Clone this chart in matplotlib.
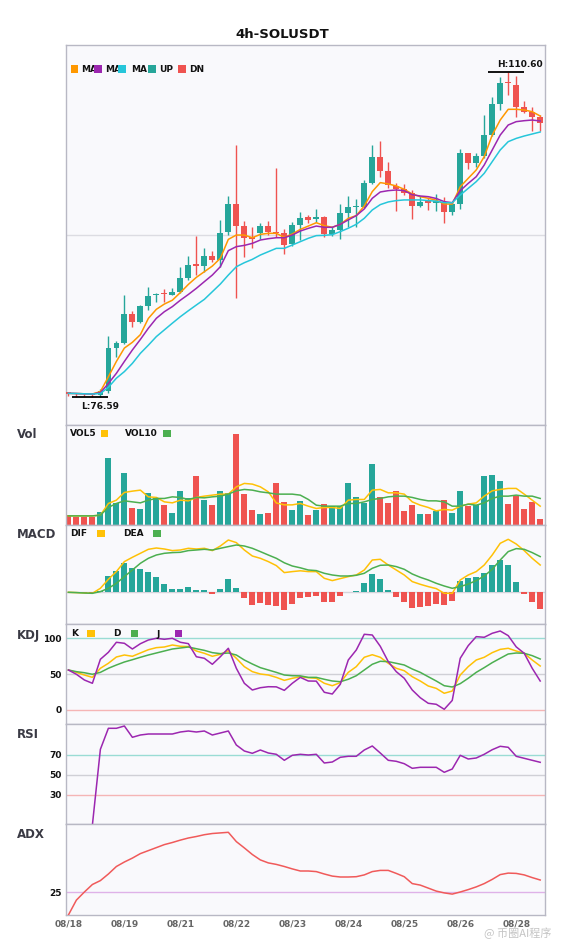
import numpy as np
import matplotlib
matplotlib.use('Agg')
import matplotlib.pyplot as plt
from matplotlib.patches import Rectangle

# ---------------- data ----------------
title = '4h-SOLUSDT'
tick_idx = [0, 7, 14, 21, 28, 35, 42, 49, 56]
tick_labels = ['08/18', '08/19', '08/21', '08/22', '08/23', '08/24', '08/25', '08/26', '08/28']

opens = [77.00, 76.95, 76.90, 76.87, 76.80, 77.24, 81.70, 82.20, 85.25, 84.45,
         86.10, 87.20, 87.40, 87.28, 87.59, 89.02, 90.45, 90.30, 91.30, 90.95,
         93.80, 96.80, 94.50, 93.34, 93.69, 94.46, 93.86, 93.69, 92.54, 94.59,
         95.40, 95.15, 95.37, 93.65, 94.07, 95.85, 96.40, 96.41, 98.98, 101.63,
         100.17, 98.63, 98.29, 97.93, 96.58, 97.10, 96.89, 96.83, 95.95, 96.80,
         102.05, 101.07, 101.77, 103.96, 107.20, 109.50, 109.19, 106.86, 106.37, 105.81]
highs = [77.14, 77.05, 76.98, 76.95, 77.39, 82.96, 82.44, 87.21, 85.57, 86.15,
         88.05, 87.49, 87.84, 87.95, 90.20, 91.30, 93.40, 92.16, 91.87, 95.05,
         97.59, 102.92, 94.98, 94.32, 94.74, 95.00, 100.48, 94.11, 94.90, 95.95,
         95.64, 96.20, 95.50, 94.38, 96.75, 97.59, 97.30, 99.26, 102.92, 103.30,
         101.14, 98.92, 98.84, 98.22, 97.59, 97.38, 97.80, 97.52, 97.00, 102.50,
         102.12, 102.12, 106.05, 107.90, 110.06, 110.60, 110.13, 107.55, 106.92, 106.05]
lows = [76.72, 76.62, 76.70, 76.59, 76.62, 77.00, 80.80, 82.10, 83.87, 84.35,
        85.68, 86.48, 86.48, 87.20, 87.50, 88.80, 89.30, 89.68, 90.70, 90.14,
        93.50, 86.90, 91.18, 92.13, 93.13, 93.50, 93.34, 91.50, 92.36, 92.99,
        94.74, 94.90, 93.34, 93.41, 93.13, 94.38, 94.38, 96.30, 98.80, 99.60,
        98.40, 96.05, 97.70, 95.15, 96.47, 96.13, 95.99, 94.80, 95.60, 96.20,
        100.44, 100.65, 101.60, 103.86, 106.58, 108.15, 105.88, 106.25, 104.41, 104.41]
closes = [76.95, 76.90, 76.87, 76.76, 77.24, 81.70, 82.20, 85.30, 84.45, 86.10,
          87.10, 87.35, 87.30, 87.59, 89.02, 90.38, 90.30, 91.30, 90.95, 93.70,
          96.75, 94.50, 93.20, 93.13, 94.46, 93.83, 93.69, 92.47, 94.53, 95.26,
          95.11, 95.36, 93.65, 94.00, 95.78, 96.41, 96.45, 98.98, 101.63, 100.23,
          98.74, 98.29, 97.93, 96.54, 96.99, 96.89, 97.10, 95.95, 96.75, 102.05,
          101.07, 101.77, 103.96, 107.20, 109.37, 109.37, 106.92, 106.40, 105.88, 105.19]

ma_short = [76.97, 76.95, 76.92, 76.90, 77.15, 78.70, 80.30, 81.70, 82.30, 83.10,
            84.80, 85.75, 86.30, 86.70, 87.50, 88.35, 89.09, 89.68, 90.27, 91.08,
            93.06, 93.51, 93.51, 93.23, 93.58, 93.69, 93.69, 93.27, 93.62, 94.10,
            94.45, 94.80, 94.49, 94.32, 94.63, 95.26, 95.54, 96.55, 98.05, 98.99,
            98.85, 98.64, 98.29, 97.80, 97.52, 97.35, 97.15, 96.75, 96.75, 98.56,
            99.44, 100.31, 101.70, 103.96, 105.53, 106.65, 106.65, 106.58, 106.40, 105.95]
ma_mid = [76.97, 76.95, 76.92, 76.90, 77.04, 78.00, 79.06, 80.30, 81.50, 82.60,
          83.77, 84.81, 85.50, 86.03, 86.70, 87.30, 87.94, 88.64, 89.33, 90.20,
          91.88, 92.30, 92.43, 92.64, 92.99, 93.13, 93.23, 93.23, 93.51, 93.93,
          94.21, 94.45, 94.32, 94.32, 94.63, 95.09, 95.54, 96.24, 97.35, 98.01,
          98.15, 98.22, 98.15, 97.73, 97.59, 97.52, 97.33, 97.00, 96.89, 98.15,
          98.91, 99.61, 100.83, 102.40, 103.96, 105.01, 105.36, 105.46, 105.53, 105.43]
ma_long = [76.97, 76.95, 76.92, 76.90, 76.95, 77.60, 78.55, 79.24, 80.10, 81.15,
           82.00, 82.90, 83.60, 84.30, 84.98, 85.60, 86.20, 86.79, 87.59, 88.39,
           89.33, 90.20, 90.62, 90.97, 91.42, 91.77, 92.12, 92.12, 92.47, 92.82,
           93.17, 93.45, 93.48, 93.55, 93.87, 94.22, 94.63, 95.26, 96.13, 96.69,
           96.97, 97.11, 97.18, 97.18, 97.18, 97.11, 97.05, 96.89, 96.89, 97.69,
           98.39, 99.09, 99.96, 101.18, 102.40, 103.27, 103.61, 103.86, 104.07, 104.28]

volume = [9.3, 7.6, 7.6, 7.6, 12.3, 66.3, 21.6, 51.3, 16.3, 15.3,
          31.3, 26.3, 19.3, 11.3, 33.3, 26.3, 48.3, 24.6, 19.3, 33.3,
          31.0, 90.3, 30.3, 14.3, 10.3, 11.3, 41.3, 22.3, 14.3, 23.3,
          9.3, 14.3, 20.3, 18.3, 18.3, 41.3, 27.3, 21.3, 60.3, 27.3,
          21.3, 33.3, 13.3, 19.3, 10.3, 10.3, 13.3, 24.3, 11.3, 33.3,
          18.3, 19.3, 48.3, 49.3, 43.3, 20.3, 28.3, 15.3, 22.3, 5.3]
vol5 = [8.6, 8.6, 8.6, 8.6, 9.3, 21.0, 24.3, 32.0, 33.3, 34.3,
        27.6, 27.0, 22.6, 21.6, 24.3, 23.6, 27.0, 28.3, 29.3, 30.3,
        30.3, 37.6, 41.0, 40.3, 37.6, 32.6, 21.5, 19.6, 19.6, 21.0,
        18.3, 16.0, 17.0, 17.0, 16.0, 24.3, 25.0, 25.0, 34.3, 35.0,
        31.6, 31.6, 30.3, 22.6, 19.3, 17.0, 13.6, 15.0, 14.3, 18.3,
        20.3, 21.6, 28.3, 33.6, 35.0, 36.0, 36.0, 30.3, 24.3, 18.3]
vol10 = [8.6, 8.6, 8.6, 8.6, 9.3, 17.0, 21.0, 23.6, 22.6, 21.6,
         24.3, 26.0, 26.0, 27.6, 27.0, 25.0, 27.0, 26.6, 27.6, 28.3,
         30.3, 33.6, 35.0, 34.3, 32.6, 31.6, 30.3, 30.3, 30.3, 29.3,
         25.0, 19.3, 18.3, 18.3, 18.3, 21.0, 21.0, 22.6, 25.0, 26.0,
         27.6, 28.3, 28.3, 27.0, 25.0, 23.6, 23.6, 22.6, 18.3, 18.3,
         20.3, 19.3, 21.6, 26.0, 28.3, 28.3, 29.3, 28.3, 28.3, 26.0]

dif = [0, -0.3, -0.7, -1.0, 4.0, 13.0, 20.7, 30.7, 35.0, 39.0,
       43.0, 44.3, 43.3, 41.7, 42.3, 44.0, 43.3, 44.0, 41.7, 46.3,
       52.3, 49.7, 42.3, 36.3, 34.0, 30.7, 26.7, 19.7, 20.7, 21.5,
       20.7, 20.7, 14.0, 11.7, 13.7, 15.7, 17.3, 22.3, 32.3, 33.0,
       27.3, 22.3, 17.3, 10.7, 8.0, 5.7, 3.7, -1.0, -1.0, 12.3,
       17.3, 20.7, 27.3, 37.3, 49.0, 53.0, 48.3, 41.7, 34.0, 27.3]
dea = [0, -0.3, -0.7, -1.0, 0.7, 4.0, 9.0, 15.7, 22.3, 29.0,
       34.0, 37.3, 39.0, 39.7, 40.0, 41.7, 42.3, 43.0, 42.3, 44.0,
       45.7, 47.3, 46.3, 44.0, 40.7, 37.3, 34.0, 29.5, 26.3, 24.5,
       22.3, 21.7, 19.0, 17.3, 16.3, 16.3, 17.0, 19.0, 24.0, 27.0,
       27.3, 25.7, 23.0, 18.3, 15.0, 12.3, 9.0, 6.3, 4.0, 5.7,
       8.3, 11.7, 16.3, 23.0, 32.3, 40.7, 43.7, 43.0, 39.7, 35.7]
macd_hist = [0, 0, -0.5, -0.5, 1.3, 16.3, 21.3, 29.3, 24.3, 23.3,
             20.3, 15.3, 8.3, 3.3, 3.3, 5.3, 2.3, 2.3, -1.7, 3.3,
             13.3, 4.3, -5.7, -12.7, -10.7, -12.7, -13.7, -17.7, -11.7, -5.7,
             -4.7, -3.7, -9.7, -9.7, -3.7, 0.3, 1.3, 9.3, 18.3, 13.3,
             2.3, -4.7, -9.7, -15.7, -14.7, -13.7, -11.7, -12.7, -8.7, 11.3,
             14.3, 15.3, 19.3, 27.3, 32.3, 27.3, 10.3, -1.7, -9.7, -16.7]

k_line = [55.6, 52.3, 48.6, 45.3, 58.0, 65.0, 73.8, 76.6, 74.8, 79.4,
          84.0, 86.9, 87.8, 90.6, 88.8, 88.4, 82.2, 79.0, 74.8, 77.6,
          82.6, 72.0, 60.3, 53.3, 50.0, 48.6, 45.3, 41.1, 44.0, 46.2,
          44.8, 44.0, 37.0, 33.6, 37.9, 52.3, 60.3, 73.4, 77.0, 73.4,
          65.0, 58.0, 54.6, 46.2, 40.2, 33.2, 29.9, 23.0, 26.2, 48.6,
          60.3, 69.6, 73.4, 79.9, 84.5, 86.0, 82.2, 79.0, 69.6, 61.2]
d_line = [55.6, 53.3, 51.8, 49.6, 52.3, 58.0, 62.6, 66.8, 70.0, 73.4,
          76.6, 79.4, 82.2, 85.0, 86.4, 87.8, 85.4, 83.1, 79.9, 78.5,
          79.4, 76.6, 69.6, 64.0, 58.9, 55.6, 52.3, 48.6, 47.6, 47.4,
          45.3, 45.3, 42.6, 40.2, 39.2, 42.6, 47.6, 55.6, 63.6, 67.8,
          67.3, 65.0, 62.6, 57.0, 52.3, 46.2, 40.2, 33.6, 31.8, 36.5,
          44.0, 52.3, 58.9, 65.9, 72.0, 78.0, 79.4, 79.0, 75.7, 71.0]
j_line = [55.6, 49.6, 41.6, 37.0, 70.6, 80.4, 94.4, 93.0, 85.0, 92.4,
          97.6, 100.0, 98.6, 100.0, 94.4, 92.5, 74.2, 72.0, 63.6, 74.2,
          86.0, 58.0, 37.0, 27.6, 30.8, 32.2, 32.0, 27.1, 37.0, 45.3,
          40.2, 40.0, 24.4, 22.0, 35.6, 69.6, 83.6, 105.6, 104.6, 88.8,
          67.3, 53.3, 44.0, 27.6, 16.8, 9.0, 7.6, 0.6, 13.0, 72.0,
          89.7, 102.3, 101.4, 107.0, 110.2, 103.7, 88.0, 79.0, 58.0, 40.2]

rsi = [np.nan, np.nan, np.nan, 0.0, 75.7, 96.7, 96.7, 99.0, 87.7, 90.0,
       91.0, 91.0, 91.0, 91.0, 93.0, 94.0, 93.0, 94.0, 90.0, 92.0,
       94.0, 80.0, 74.0, 71.7, 75.0, 72.0, 70.7, 64.7, 69.7, 70.7,
       70.0, 70.7, 62.0, 63.0, 67.7, 68.7, 68.7, 75.0, 79.0, 72.0,
       64.7, 63.7, 61.3, 56.7, 57.7, 57.7, 57.7, 52.7, 56.0, 69.7,
       66.0, 67.0, 70.7, 75.3, 78.7, 77.7, 68.7, 66.7, 64.7, 62.7]

adx = [17.43, 22.4, 25.1, 27.6, 28.9, 31.1, 33.6, 35.1, 36.4, 37.9,
       38.9, 39.9, 40.9, 41.6, 42.4, 43.1, 43.6, 44.2, 44.6, 44.8,
       45.0, 41.9, 39.8, 37.6, 35.8, 34.8, 34.3, 33.6, 32.8, 32.1,
       32.1, 31.9, 31.1, 30.4, 30.1, 30.1, 30.2, 30.8, 31.9, 32.3,
       32.3, 31.3, 30.2, 27.9, 27.4, 26.4, 25.4, 24.8, 24.4, 25.1,
       25.9, 26.8, 27.9, 29.3, 30.9, 31.4, 31.3, 30.8, 29.9, 29.1]

# ---------------- style ----------------
UP, DN = '#26a69a', '#ef5350'
C_ORANGE, C_PURPLE, C_CYAN = '#ff9800', '#9c27b0', '#26c6da'
C_YEL, C_GRN = '#ffc107', '#4caf50'
BG = '#f9f9fc'
SPINE = '#b8b8c4'

W, H = 565, 950
fig = plt.figure(figsize=(W / 100, H / 100), dpi=100)
fig.patch.set_facecolor('white')


def fx(px):
    return px / W


def fy(py):
    return 1 - py / H


def add_ax(top, bottom):
    ax = fig.add_axes([fx(66), fy(bottom), fx(545) - fx(66), (bottom - top) / H])
    ax.set_facecolor(BG)
    for s in ax.spines.values():
        s.set_color(SPINE)
        s.set_linewidth(1.0)
    ax.set_xlim(-0.3, 59.6)
    ax.tick_params(axis='both', length=0, labelsize=6.5, pad=3)
    ax.set_xticks([])
    ax.set_yticks([])
    return ax


def legend_text(px, py, s):
    fig.text(fx(px), fy(py), s, fontsize=6.5, fontweight='bold', color='#111111',
             ha='left', va='center', zorder=3)


def legend_box(px, py, color):
    fig.patches.append(Rectangle((fx(px), fy(py + 3.8)), 7.4 / W, 7.6 / H,
                                 transform=fig.transFigure, facecolor=color,
                                 edgecolor='none', zorder=5))


def panel_label(py, s):
    fig.text(fx(17), fy(py), s, fontsize=8.5, fontweight='bold', color='#3a3a44',
             ha='left', va='center')


x = np.arange(len(closes))
o = np.array(opens)
c = np.array(closes)
hi = np.array(highs)
lo = np.array(lows)
cols = np.where(c >= o, UP, DN)

# ---------------- main candle panel ----------------
ax = add_ax(45, 425)
ylo, yhi = 73.66, 113.37
ax.set_ylim(ylo, yhi)
ax.axhline((ylo + yhi) / 2, color='#dcdce2', lw=1.0, zorder=1)
ax.vlines(x, lo, hi, colors=cols, linewidth=1.0, zorder=2)
ax.bar(x, np.maximum(np.abs(c - o), 0.12), bottom=np.minimum(o, c), width=0.72,
       color=cols, zorder=3)
ax.plot(x, ma_short, color=C_ORANGE, lw=1.1, zorder=4)
ax.plot(x, ma_mid, color=C_PURPLE, lw=1.1, zorder=4)
ax.plot(x, ma_long, color=C_CYAN, lw=1.1, zorder=4)

ih = int(np.argmax(hi))
il = int(np.argmin(lo))
ax.hlines(hi[ih], ih - 2.5, ih + 2.0, color='black', lw=1.3, zorder=5)
ax.text(ih - 1.4, hi[ih] + 0.75, f'H:{hi[ih]:.2f}', fontsize=6.5, fontweight='bold',
        ha='left', va='center', color='#111111', zorder=6)
ax.hlines(lo[il], il - 2.5, il + 2.0, color='black', lw=1.3, zorder=5)
ax.text(il - 1.4, lo[il] - 0.95, f'L:{lo[il]:.2f}', fontsize=6.5, fontweight='bold',
        ha='left', va='center', color='#111111', zorder=6)

legend_box(70.7, 69, C_ORANGE)
legend_text(81, 69, 'MA')
legend_box(94.3, 69, C_PURPLE)
legend_text(105, 69, 'MA')
legend_box(118.3, 69, C_CYAN)
legend_text(131, 69, 'MA')
legend_box(148.3, 69, UP)
legend_text(159, 69, 'UP')
legend_box(178.3, 69, DN)
legend_text(189, 69, 'DN')

# ---------------- volume ----------------
axv = add_ax(425, 524.5)
axv.set_ylim(0, 99.3)
axv.bar(x, volume, width=0.75, color=cols, zorder=2)
axv.plot(x, vol5, color=C_YEL, lw=1.1, zorder=3)
axv.plot(x, vol10, color=C_GRN, lw=1.1, zorder=3)
panel_label(434, 'Vol')
legend_text(70, 433.5, 'VOL5')
legend_box(101, 433.5, C_YEL)
legend_text(125, 433.5, 'VOL10')
legend_box(163.3, 433.5, C_GRN)

# ---------------- MACD ----------------
axm = add_ax(524.5, 624)
axm.set_ylim(-31.7, 67.8)
axm.axhline(0, color='#d4d4da', lw=1.0, zorder=1)
hist = np.array(macd_hist)
axm.bar(x, hist, width=0.75, color=np.where(hist >= 0, UP, DN), zorder=2)
axm.plot(x, dif, color=C_YEL, lw=1.1, zorder=3)
axm.plot(x, dea, color=C_GRN, lw=1.1, zorder=3)
panel_label(535, 'MACD')
legend_text(70, 533.5, 'DIF')
legend_box(97.3, 533.5, C_YEL)
legend_text(123.3, 533.5, 'DEA')
legend_box(153.3, 533.5, C_GRN)

# ---------------- KDJ ----------------
axk = add_ax(624, 724)
axk.set_ylim(-20, 120)
axk.axhline(100, color='#9adcd4', lw=1.0, zorder=1)
axk.axhline(50, color='#d0d0d6', lw=1.0, zorder=1)
axk.axhline(0, color='#f5b5b5', lw=1.0, zorder=1)
axk.plot(x, k_line, color=C_YEL, lw=1.1, zorder=3)
axk.plot(x, d_line, color=C_GRN, lw=1.1, zorder=3)
axk.plot(x, j_line, color=C_PURPLE, lw=1.1, zorder=3)
axk.set_yticks([0, 50, 100])
axk.set_yticklabels(['0', '50', '100'], fontweight='bold', color='#111111')
panel_label(635, 'KDJ')
legend_text(70.7, 633.5, 'K')
legend_box(87.3, 633.5, C_YEL)
legend_text(113, 633.5, 'D')
legend_box(131, 633.5, C_GRN)
legend_text(156.7, 634.5, 'J')
legend_box(175, 633.5, C_PURPLE)

# ---------------- RSI ----------------
axr = add_ax(724, 824)
axr.set_ylim(1, 101)
axr.axhline(70, color='#9adcd4', lw=1.0, zorder=1)
axr.axhline(50, color='#d0d0d6', lw=1.0, zorder=1)
axr.axhline(30, color='#f5b5b5', lw=1.0, zorder=1)
axr.plot(x, rsi, color=C_PURPLE, lw=1.1, zorder=3)
axr.set_yticks([30, 50, 70])
axr.set_yticklabels(['30', '50', '70'], fontweight='bold', color='#111111')
panel_label(735, 'RSI')

# ---------------- ADX ----------------
axa = add_ax(824, 915)
axa.set_ylim(17.43, 47.77)
axa.axhline(25, color='#dfb2e8', lw=1.0, zorder=1)
axa.plot(x, adx, color='#f05a5a', lw=1.1, zorder=3)
axa.set_yticks([25])
axa.set_yticklabels(['25'], fontweight='bold', color='#111111')
axa.set_xticks(tick_idx)
axa.set_xticklabels(tick_labels, fontweight='bold', color='#666666', fontsize=6.5)
panel_label(834, 'ADX')

# ---------------- title & watermark ----------------
fig.text(0.5, fy(34), title, ha='center', va='center', fontsize=9.5,
         fontweight='bold', color='#111111')
fig.text(fx(484), fy(933), '@ 币圈AI程序', ha='left', va='center', fontsize=8,
         color='#c4c4c4', family=['Noto Sans CJK SC', 'DejaVu Sans'])

fig.savefig('out.png', dpi=100, facecolor='white')
